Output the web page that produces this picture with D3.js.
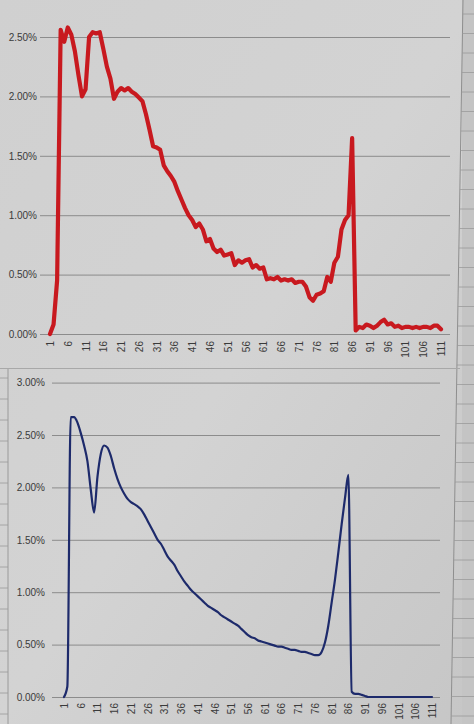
<!DOCTYPE html>
<html><head><meta charset="utf-8">
<script src="https://cdn.jsdelivr.net/npm/d3@7"></script>
<style>
html,body{margin:0;padding:0;background:#c9c9c9;overflow:hidden}
svg{display:block}
text{font-family:"Liberation Sans",Arial,sans-serif}
</style></head>
<body>
<svg id="c" width="474" height="724"></svg>
<script>
// ---- data ----
const categories = d3.range(1, 112); // 1..111
const tickLabels = [1,6,11,16,21,26,31,36,41,46,51,56,61,66,71,76,81,86,91,96,101,106,111];
const yTicksTop = [0,0.5,1.0,1.5,2.0,2.5];
const yTicksBottom = [0,0.5,1.0,1.5,2.0,2.5,3.0];
// top chart (red) values, %
const redValues = [
0.00,0.08,0.45,2.56,2.46,2.58,2.52,2.38,2.18,2.00,
2.06,2.50,2.54,2.53,2.54,2.40,2.25,2.15,1.98,2.04,
2.07,2.05,2.07,2.04,2.02,1.99,1.96,1.85,1.72,1.58,
1.57,1.55,1.42,1.37,1.33,1.28,1.20,1.13,1.06,1.00,
0.96,0.90,0.93,0.88,0.78,0.80,0.72,0.69,0.71,0.66,
0.67,0.68,0.58,0.62,0.60,0.62,0.63,0.56,0.58,0.55,
0.56,0.46,0.47,0.46,0.48,0.45,0.46,0.45,0.46,0.43,
0.44,0.44,0.40,0.31,0.28,0.33,0.34,0.36,0.48,0.44,
0.60,0.65,0.88,0.96,1.00,1.65,0.03,0.06,0.05,0.08,
0.07,0.05,0.07,0.10,0.12,0.08,0.09,0.06,0.07,0.05,
0.06,0.06,0.05,0.06,0.05,0.06,0.06,0.05,0.07,0.07,
0.04];
// bottom chart (blue) values, %
const blueValues = [
0.00,0.10,2.67,2.67,2.62,2.52,2.40,2.25,1.98,1.76,
2.10,2.32,2.40,2.38,2.30,2.18,2.08,2.00,1.94,1.89,
1.86,1.84,1.82,1.79,1.74,1.68,1.62,1.56,1.50,1.46,
1.40,1.34,1.30,1.26,1.20,1.15,1.10,1.06,1.02,0.99,
0.96,0.93,0.90,0.87,0.85,0.83,0.81,0.78,0.76,0.74,
0.72,0.70,0.68,0.65,0.62,0.59,0.57,0.56,0.54,0.53,
0.52,0.51,0.50,0.49,0.48,0.48,0.47,0.46,0.45,0.45,
0.44,0.43,0.43,0.42,0.41,0.40,0.40,0.43,0.52,0.68,
0.90,1.12,1.38,1.65,1.90,2.12,0.05,0.03,0.03,0.02,
0.01,0.00,0.00,0.00,0.00,0.00,0.00,0.00,0.00,0.00,
0.00,0.00,0.00,0.00,0.00,0.00,0.00,0.00,0.00,0.00,
0.00];

const svg = d3.select("#c");
const defs = svg.append("defs");
const g1 = defs.append("linearGradient").attr("id","bg").attr("x1",0).attr("y1",0).attr("x2",1).attr("y2",1);
g1.append("stop").attr("offset","0%").attr("stop-color","#d0d0d0");
g1.append("stop").attr("offset","50%").attr("stop-color","#d3d3d3");
g1.append("stop").attr("offset","100%").attr("stop-color","#c6c6c6");

// background
svg.append("rect").attr("width",474).attr("height",724).attr("fill","url(#bg)");

// spreadsheet cells at right
const cells = svg.append("g");
cells.append("rect").attr("x",462).attr("y",0).attr("width",12).attr("height",724).attr("fill","#c4c4c4");
cells.append("line").attr("x1",463).attr("x2",451).attr("y1",0).attr("y2",724).attr("stroke","#8e8e8e");
d3.range(14, 724, 19.5).forEach((y,i)=>{
  cells.append("line").attr("x1",463 - y*12/724).attr("x2",474).attr("y1",y).attr("y2",y).attr("stroke","#9a9a9a").attr("stroke-width",0.8);
});
// left cells (bottom chart)
svg.append("line").attr("x1",8).attr("x2",8).attr("y1",369).attr("y2",724).attr("stroke","#9a9a9a");
d3.range(378, 724, 21).forEach(y=>{
  svg.append("line").attr("x1",0).attr("x2",8).attr("y1",y).attr("y2",y).attr("stroke","#9a9a9a").attr("stroke-width",0.8);
});
// divider between charts
svg.append("line").attr("x1",0).attr("x2",460).attr("y1",368.5).attr("y2",368.5).attr("stroke","#a8a8a8");

function drawChart(opts){
  const {values, color, width, x0, x1, yBase, yTop, gridL, gridR, labelX, xLabelY, yTicks} = opts;
  const x = d3.scaleLinear().domain([1,111]).range([x0,x1]);
  const y = d3.scaleLinear().domain([0,3]).range([yBase,yTop]);
  const g = svg.append("g");
  // gridlines + y labels
  const ya = d3.axisLeft(y).tickValues(yTicks).tickSize(-(gridR-gridL)).tickFormat(d=>d.toFixed(2)+"%");
  const yg = g.append("g").attr("transform",`translate(${gridL},0)`).call(ya);
  yg.select(".domain").remove();
  yg.selectAll(".tick line").attr("stroke","#8c8c8c").attr("stroke-width",1);
  yg.selectAll(".tick text").attr("x",labelX-gridL).attr("fill","#3a3a3a").attr("font-size",10);
  // x labels
  const xa = d3.axisBottom(x).tickValues(tickLabels).tickSize(0).tickFormat(d3.format("d"));
  const xg = g.append("g").attr("transform",`translate(0,${xLabelY})`).call(xa);
  xg.select(".domain").remove();
  xg.selectAll(".tick text")
    .attr("transform","rotate(-90)")
    .attr("text-anchor","end").attr("x",0).attr("y",0).attr("dy","0.35em")
    .attr("fill","#3a3a3a").attr("font-size",10);
  // line
  const line = d3.line().x((d,i)=>x(categories[i])).y(d=>y(d)).curve(opts.curve||d3.curveLinear);
  g.append("path").datum(values).attr("d",line).attr("fill","none")
    .attr("stroke",color).attr("stroke-width",width)
    .attr("stroke-linejoin","round").attr("stroke-linecap","round");
}

drawChart({values:redValues,color:"#c8191f",width:4.2,x0:50,x1:441,
  yBase:334,yTop:334-118.8*3,gridL:40,gridR:450,labelX:37,xLabelY:341,yTicks:yTicksTop});
drawChart({values:blueValues,color:"#1d2a6b",width:2.2,x0:64,x1:432,
  yBase:697,yTop:697-104.8*3,gridL:52,gridR:440,labelX:45,xLabelY:703,yTicks:yTicksBottom,curve:d3.curveMonotoneX});
</script>
</body></html>
